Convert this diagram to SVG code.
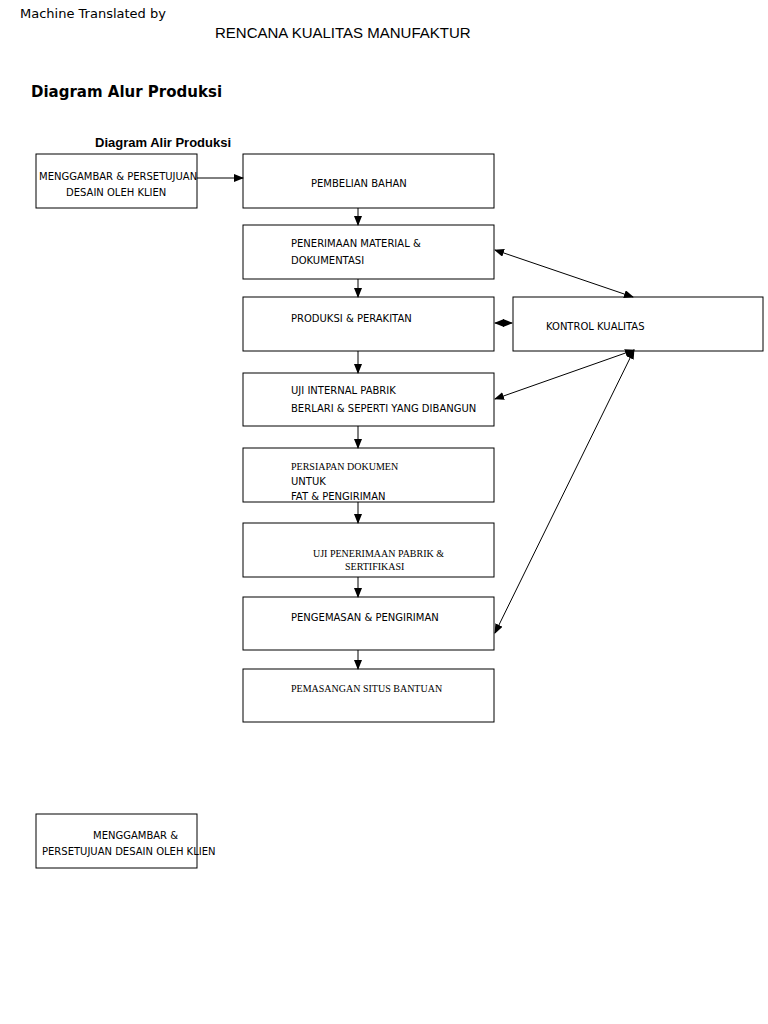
<svg xmlns="http://www.w3.org/2000/svg" width="768" height="1024" viewBox="0 0 768 1024">
<style>
.b{fill:#fff;stroke:#000;stroke-width:1}
.t{font-family:"DejaVu Sans",sans-serif;font-size:10px;fill:#000}
.s{font-family:"Liberation Serif",serif;font-size:10px;fill:#000}
.c{stroke:#000;stroke-width:1;fill:none;marker-end:url(#a)}
.d{stroke:#000;stroke-width:1;fill:none;marker-end:url(#a);marker-start:url(#a2)}
</style>
<defs>
<marker id="a" markerWidth="10" markerHeight="8" refX="9" refY="4" orient="auto" markerUnits="userSpaceOnUse"><path d="M0,0L10,4L0,8z"/></marker>
<marker id="a2" markerWidth="10" markerHeight="8" refX="1" refY="4" orient="auto" markerUnits="userSpaceOnUse"><path d="M10,0L0,4L10,8z"/></marker>
</defs>
<rect width="768" height="1024" fill="#fff"/>
<text x="20" y="18" font-family="DejaVu Sans,sans-serif" font-size="13">Machine Translated by</text>
<text x="215" y="38" font-family="Liberation Sans,sans-serif" font-size="15">RENCANA KUALITAS MANUFAKTUR</text>
<text x="31" y="97" font-family="DejaVu Sans,sans-serif" font-size="15" font-weight="bold">Diagram Alur Produksi</text>
<text x="95" y="147" font-family="Liberation Sans,sans-serif" font-size="13" font-weight="bold">Diagram Alir Produksi</text>
<g id="n0"><rect class="b" x="36" y="154" width="161" height="54"/><text class="t" x="39" y="180" font-size="9">MENGGAMBAR &amp;  PERSETUJUAN</text><text class="t" x="66" y="196" font-size="9">DESAIN  OLEH KLIEN</text></g>
<g id="n1"><rect class="b" x="243" y="154" width="251" height="54"/><text class="t" x="311" y="187">PEMBELIAN BAHAN</text></g>
<g id="n2"><rect class="b" x="243" y="225" width="251" height="54"/><text class="t" x="291" y="247">PENERIMAAN MATERIAL &amp;</text><text class="t" x="291" y="264">DOKUMENTASI</text></g>
<g id="n3"><rect class="b" x="243" y="297" width="251" height="54"/><text class="t" x="291" y="322" font-size="11">PRODUKSI &amp; PERAKITAN</text></g>
<g id="qc"><rect class="b" x="513" y="297" width="250" height="54"/><text class="t" x="546" y="330" font-size="11">KONTROL KUALITAS</text></g>
<g id="n4"><rect class="b" x="243" y="373" width="251" height="53"/><text class="t" x="291" y="394">UJI INTERNAL PABRIK</text><text class="t" x="291" y="412">BERLARI &amp; SEPERTI YANG DIBANGUN</text></g>
<g id="n5"><rect class="b" x="243" y="448" width="251" height="54"/><text class="s" x="291" y="470" font-size="8">PERSIAPAN DOKUMEN</text><text class="t" x="291" y="485" font-size="9">UNTUK</text><text class="t" x="291" y="500" font-size="9">FAT &amp; PENGIRIMAN</text></g>
<g id="n6"><rect class="b" x="243" y="523" width="251" height="54"/><text class="s" x="313" y="557" font-size="9">UJI PENERIMAAN PABRIK &amp;</text><text class="s" x="345" y="570" font-size="9">SERTIFIKASI</text></g>
<g id="n7"><rect class="b" x="243" y="597" width="251" height="53"/><text class="t" x="291" y="621">PENGEMASAN &amp; PENGIRIMAN</text></g>
<g id="n8"><rect class="b" x="243" y="669" width="251" height="53"/><text class="s" x="291" y="692">PEMASANGAN SITUS BANTUAN</text></g>
<g id="n9"><rect class="b" x="36" y="814" width="161" height="54"/><text class="t" x="93" y="839" font-size="9">MENGGAMBAR &amp;</text><text class="t" x="42" y="855" font-size="9">PERSETUJUAN DESAIN  OLEH KLIEN</text></g>
<g id="connectors">
<line class="c" x1="197" y1="178" x2="243" y2="178"/>
<line class="c" x1="358" y1="208" x2="358" y2="225"/>
<line class="c" x1="358" y1="279" x2="358" y2="297"/>
<line class="c" x1="358" y1="351" x2="358" y2="373"/>
<line class="c" x1="358" y1="426" x2="358" y2="448"/>
<line class="c" x1="358" y1="502" x2="358" y2="523"/>
<line class="c" x1="358" y1="577" x2="358" y2="597"/>
<line class="c" x1="358" y1="650" x2="358" y2="669"/>
<line class="d" x1="495" y1="250" x2="633" y2="297"/>
<line class="d" x1="495" y1="323" x2="512" y2="323"/>
<line class="d" x1="495" y1="399" x2="634" y2="350"/>
<line class="d" x1="495" y1="633" x2="634" y2="350"/>
</g>
</svg>
